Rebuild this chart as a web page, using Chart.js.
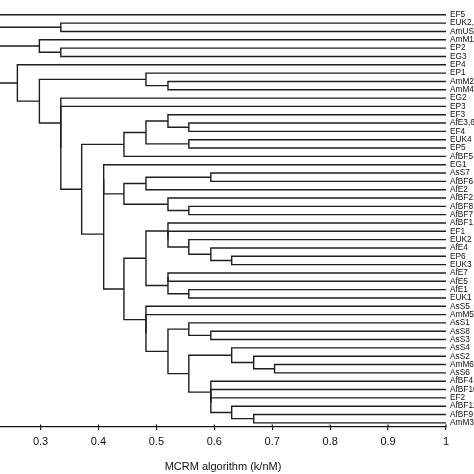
<!DOCTYPE html>
<html><head><meta charset="utf-8">
<script src="https://cdn.jsdelivr.net/npm/chart.js@4.4.1/dist/chart.umd.min.js"></script>
<style>html,body{margin:0;padding:0;background:#fff}#wrap{width:474px;height:474px;position:relative}</style>
</head><body><div id="wrap"><canvas id="c"></canvas></div>
<script>
// Leaf labels, top to bottom
const leafNames = ["EF5","EUK2,5","AmUS","AmM1","EP2","EG3","EP4","EP1","AmM2","AmM4",
  "EG2","EP3","EF3","AfE3,6","EF4","EUK4","EP5","AfBF5","EG1","AsS7",
  "AfBF6","AfE2","AfBF2","AfBF8","AfBF7","AfBF1","EF1","EUK2","AfE4","EP6",
  "EUK3","AfE7","AfE5","AfE1","EUK1","AsS5","AmM5","AsS1","AsS8","AsS3",
  "AsS4","AsS2","AmM6","AsS6","AfBF4","AfBF10","EF2","AfBF11","AfBF9","AmM3"];
// Linkage rows: [left, right, height]; numbers = leaf index, "mK" = merge row K
const linkage = [
  [1,2,0.335],[4,5,0.335],[3,"m1",0.298],[8,9,0.520],[7,"m3",0.482],
  [13,14,0.556],[12,"m5",0.520],[15,16,0.556],["m6","m7",0.482],["m8",17,0.444],
  [19,20,0.594],["m10",21,0.482],[23,24,0.556],[22,"m12",0.520],["m11","m13",0.444],
  [18,"m14",0.409],[29,30,0.630],[28,"m16",0.594],[27,"m17",0.556],[26,"m18",0.520],
  [25,"m19",0.520],[31,32,0.520],[33,34,0.556],["m21","m22",0.520],["m20","m23",0.482],
  [38,39,0.594],[37,"m25",0.556],[42,43,0.704],[41,"m27",0.668],[40,"m28",0.630],
  [48,49,0.668],[47,"m30",0.630],[45,46,0.594],["m32","m31",0.594],[44,"m33",0.594],
  ["m29","m34",0.556],["m26","m35",0.520],[36,"m36",0.482],[35,"m37",0.482],["m24","m38",0.444],
  ["m15","m39",0.409],["m9","m40",0.371],[11,"m41",0.335],[10,"m42",0.335],["m4","m43",0.298],
  [6,"m44",0.260],[0,"m0",0.21],["m46","m2",0.19],["m47","m45",0.17]
];
const xTickValues = [0.3,0.4,0.5,0.6,0.7,0.8,0.9,1];
const xMin = 0.23, xMax = 1;

const nodeY = {}, nodeH = {};
function ref(r){ return typeof r === 'number' ? {y:r, h:xMax} : {y:nodeY[r], h:nodeH[r]}; }
const datasets = [];
linkage.forEach((row,k)=>{
  const a = ref(row[0]), b = ref(row[1]), h = row[2];
  nodeY['m'+k] = (a.y+b.y)/2; nodeH['m'+k] = h;
  datasets.push({data:[{x:a.h,y:a.y},{x:h,y:a.y},{x:h,y:b.y},{x:b.h,y:b.y}],
    showLine:true, borderColor:'#1e1e1e', borderWidth:1.4, pointRadius:0, fill:false});
});

const upTicks = {id:'upTicks', afterDraw(chart){
  const s = chart.scales.x, c = chart.ctx, b = chart.chartArea.bottom;
  c.save(); c.strokeStyle='#111'; c.lineWidth=1.2;
  xTickValues.forEach(v=>{const px=s.getPixelForValue(v); c.beginPath(); c.moveTo(px,b-2.5); c.lineTo(px,b); c.stroke();});
  c.restore();
}};

new Chart(document.getElementById('c'), {
  type:'scatter',
  data:{datasets},
  plugins:[upTicks],
  options:{
    responsive:true, maintainAspectRatio:false, animation:false,
    layout:{padding:0},
    plugins:{legend:{display:false}, tooltip:{enabled:false}},
    scales:{
      x:{type:'linear', min:xMin, max:xMax, position:'bottom',
        afterBuildTicks:s=>{s.ticks = xTickValues.map(v=>({value:v}));},
        afterFit:s=>{s.height = 47;},
        grid:{display:true, drawOnChartArea:false, drawTicks:true, tickLength:3, color:'#111', lineWidth:1.2},
        border:{display:true, color:'#111', width:1.3},
        ticks:{padding:5, color:'#111', maxRotation:0, autoSkip:false,
          font:{family:'"Liberation Sans", Arial, sans-serif', size:11},
          callback:v=>String(v)},
        title:{display:true, text:'MCRM algorithm (k/nM)', color:'#111',
          font:{family:'"Liberation Sans", Arial, sans-serif', size:11}, padding:{top:0,bottom:0}}
      },
      y:{type:'linear', position:'right', reverse:true, min:-0.7, max:49.5,
        afterBuildTicks:s=>{s.ticks = leafNames.map((_,i)=>({value:i}));},
        afterFit:s=>{s.width = 28;},
        grid:{display:false, drawTicks:false}, border:{display:false},
        ticks:{padding:4, color:'#111', autoSkip:false,
          font:{family:'"Liberation Sans", Arial, sans-serif', size:8.3},
          callback:v=>leafNames[v]}
      }
    }
  }
});
</script></body></html>
